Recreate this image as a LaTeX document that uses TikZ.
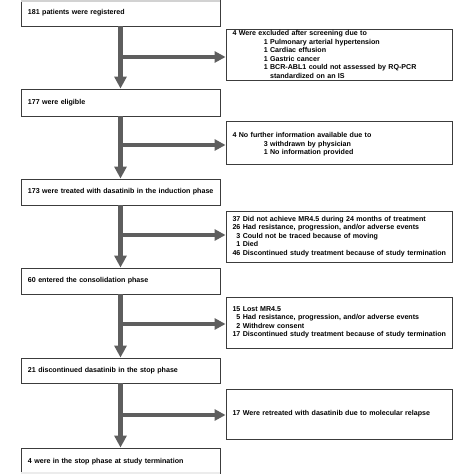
\documentclass[tikz,border=0pt]{standalone}
\usepackage{fontspec}
\setmainfont{Liberation Sans}
\usetikzlibrary{arrows.meta}
\definecolor{arrowgray}{HTML}{5E5E5E}
\definecolor{boxline}{HTML}{3C3C3C}
\begin{document}
\begin{tikzpicture}[x=1bp,y=-1bp,
  every node/.style={font=\bfseries\fontsize{7.1bp}{8.5bp}\selectfont},
  mainbox/.style={draw=boxline, line width=0.9bp, minimum width=199bp, text width=185bp, inner xsep=7bp, inner ysep=0pt, align=left},
  sidebox/.style={draw=boxline, line width=0.9bp, minimum width=226bp, text width=213bp, inner xsep=6.5bp, inner ysep=0pt, align=left},
  varrow/.style={draw=arrowgray, line width=5bp, -{Triangle[length=12bp,width=12bp]}},
  harrow/.style={draw=arrowgray, line width=4.5bp, -{Triangle[length=11bp,width=11bp]}},
  strip/.style={fill=#1, draw=none}
]
\useasboundingbox (0,0) rectangle (474,474);

% main column
\node[mainbox, minimum height=27bp] (b1) at (120.5,12.5) {181 patients were registered};
\node[mainbox, minimum height=27bp] (b2) at (120.5,102.5) {177 were eligible};
\node[mainbox, minimum height=26bp] (b3) at (120.5,192) {\mbox{173 were treated with dasatinib in the induction phase}};
\node[mainbox, minimum height=26bp] (b4) at (120.5,281) {60 entered the consolidation phase};
\node[mainbox, minimum height=25bp] (b5) at (120.5,370.5) {21 discontinued dasatinib in the stop phase};
\node[mainbox, minimum height=28bp] (b6) at (120.5,462) {4 were in the stop phase at study termination};

% side boxes
\node[sidebox, minimum height=51bp] (s1) at (339,54.5) {4 Were excluded after screening due to\\
\hspace*{31.3bp}1 Pulmonary arterial hypertension\\
\hspace*{31.3bp}1 Cardiac effusion\\
\hspace*{31.3bp}1 Gastric cancer\\
\hspace*{31.3bp}1 BCR-ABL1 could not assessed by RQ-PCR\\
\hspace*{31.3bp}\phantom{1}\ standardized on an IS};
\node[sidebox, minimum height=43bp] (s2) at (339,142.5) {\mbox{}\\
4 No further information available due to\\
\hspace*{31.3bp}3 withdrawn by physician\\
\hspace*{31.3bp}1 No information provided};
\node[sidebox, minimum height=51bp] (s3) at (339,236.5) {\mbox{37 Did not achieve MR4.5 during 24 months of treatment}\\
\mbox{26 Had resistance, progression, and/or adverse events}\\
\phantom{0}3 Could not be traced because of moving\\
\phantom{0}1 Died\\
\mbox{46 Discontinued study treatment because of study termination}};
\node[sidebox, minimum height=51bp] (s4) at (339,322.5) {15 Lost MR4.5\\
\mbox{\phantom{0}5 Had resistance, progression, and/or adverse events}\\
\phantom{0}2 Withdrew consent\\
\mbox{17 Discontinued study treatment because of study termination}};
\node[sidebox, minimum height=50bp] (s5) at (339,414) {17 Were retreated with dasatinib due to molecular relapse};

% edge strips
\fill[strip=gray!35] (b1.north west |- 0,0) rectangle (b1.east |- 0,1.7);
\fill[strip=gray!15] (b6.west |- 0,471.5) rectangle (b6.east |- 0,474);

% vertical arrows
\draw[varrow] (b1) -- (b2);
\draw[varrow] (b2) -- (b3);
\draw[varrow] (b3) -- (b4);
\draw[varrow] (b4) -- (b5);
\draw[varrow] (b5) -- (b6);

% horizontal arrows
\coordinate (h1) at (120.5,57);
\coordinate (h2) at (120.5,145);
\coordinate (h3) at (120.5,235);
\coordinate (h4) at (120.5,324);
\coordinate (h5) at (120.5,415);
\draw[harrow] (h1) -- (h1 -| s1.west);
\draw[harrow] (h2) -- (h2 -| s2.west);
\draw[harrow] (h3) -- (h3 -| s3.west);
\draw[harrow] (h4) -- (h4 -| s4.west);
\draw[harrow] (h5) -- (h5 -| s5.west);
\end{tikzpicture}
\end{document}
